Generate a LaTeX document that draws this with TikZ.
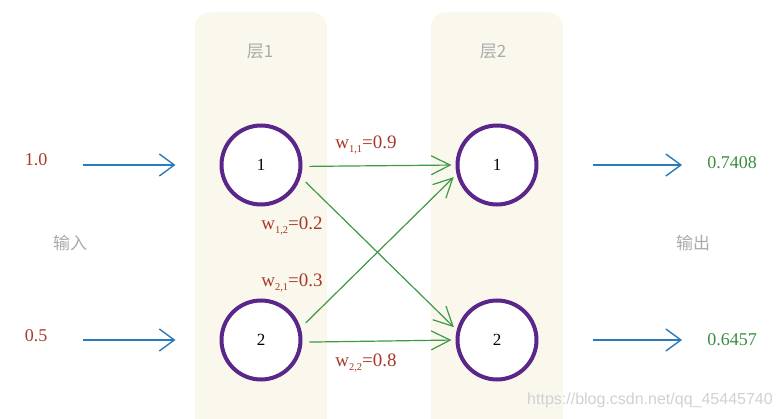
\documentclass[tikz,border=0pt]{standalone}
\usepackage{fontspec}
\setmainfont{Liberation Serif}
\newfontfamily\cjk{Noto Sans CJK SC}
\newfontfamily\wmfont{Liberation Sans}
\usetikzlibrary{arrows.meta}
\definecolor{panelc}{RGB}{250,248,236}
\definecolor{redt}{RGB}{168,56,42}
\definecolor{grayt}{RGB}{170,170,170}
\definecolor{greent}{RGB}{58,140,64}
\definecolor{greenl}{RGB}{60,154,70}
\definecolor{bluel}{RGB}{43,123,185}
\definecolor{purplec}{RGB}{90,38,138}
\newcommand{\wsub}[2]{w\raisebox{-0.35ex}{\fontsize{10.5}{10.5}\selectfont #1,#2}}
\tikzset{
  panel/.style={fill=panelc, draw=none, rounded corners=15pt, minimum width=132pt, minimum height=460pt, anchor=north, inner sep=0pt},
  neuron/.style={circle, draw=purplec, line width=4pt, fill=white, minimum size=79pt, inner sep=0pt, font=\fontsize{17}{17}\selectfont},
  redlab/.style={text=redt, font=\fontsize{18}{18}\selectfont, inner sep=1pt},
  wlab/.style={text=redt, font=\fontsize{19}{19}\selectfont, inner sep=1pt},
  graylab/.style={text=grayt, font=\cjk\fontsize{17}{17}\selectfont, inner sep=1pt},
  outlab/.style={text=greent, font=\fontsize{18}{18}\selectfont, inner sep=1pt},
  bluearrow/.style={draw=bluel, line width=1.4pt, -{Straight Barb[length=15pt,width=22pt,line width=1.4pt]}},
  greenarrow/.style={draw=greenl, line width=1.2pt, -{Straight Barb[length=19pt,width=19pt,line width=1.2pt]}, shorten <=7pt, shorten >=4pt}
}
\begin{document}
\begin{tikzpicture}[x=1pt,y=-1pt]
\useasboundingbox (0,0) rectangle (781,419);
\node[panel] (p1) at (261,12) {};
\node[panel] (p2) at (497,12) {};
\node[graylab] (l1) at (260,52) {层1};
\node[graylab] (l2) at (493,52) {层2};

\node[neuron] (n11) at (261,165) {1};
\node[neuron] (n12) at (261,340) {2};
\node[neuron] (n21) at (497,165) {1};
\node[neuron] (n22) at (497,340) {2};

\node[redlab] (in1) at (36,160) {1.0};
\node[redlab] (in2) at (36,336) {0.5};
\node[graylab] (inl) at (70,243) {输入};
\node[graylab] (outl) at (693,243) {输出};
\node[outlab] (out1) at (732,163) {0.7408};
\node[outlab] (out2) at (732,340) {0.6457};

\draw[bluearrow, shorten <=35pt, shorten >=44pt] (in1.east |- n11) -- (n11.west);
\draw[bluearrow, shorten <=35pt, shorten >=44pt] (in2.east |- n12) -- (n12.west);
\draw[bluearrow, shorten <=54pt, shorten >=24pt] (n21.east) -- (out1.west |- n21);
\draw[bluearrow, shorten <=54pt, shorten >=24pt] (n22.east) -- (out2.west |- n22);

\draw[greenarrow] (n11.-2) -- (n21.180);
\draw[greenarrow] (n11.-17) -- (n22.166);
\draw[greenarrow] (n12.17) -- (n21.-167);
\draw[greenarrow] (n12.-3) -- (n22.180);

\node[wlab] (w11) at (366,145) {\wsub{1}{1}=0.9};
\node[wlab] (w12) at (292,226) {\wsub{1}{2}=0.2};
\node[wlab] (w21) at (292,283) {\wsub{2}{1}=0.3};
\node[wlab] (w22) at (366,363) {\wsub{2}{2}=0.8};

\node[text=black!18, font=\wmfont\fontsize{16}{16}\selectfont, inner sep=0pt] (wm) at (650,400) {https://blog.csdn.net/qq\_45445740};
\end{tikzpicture}
\end{document}
